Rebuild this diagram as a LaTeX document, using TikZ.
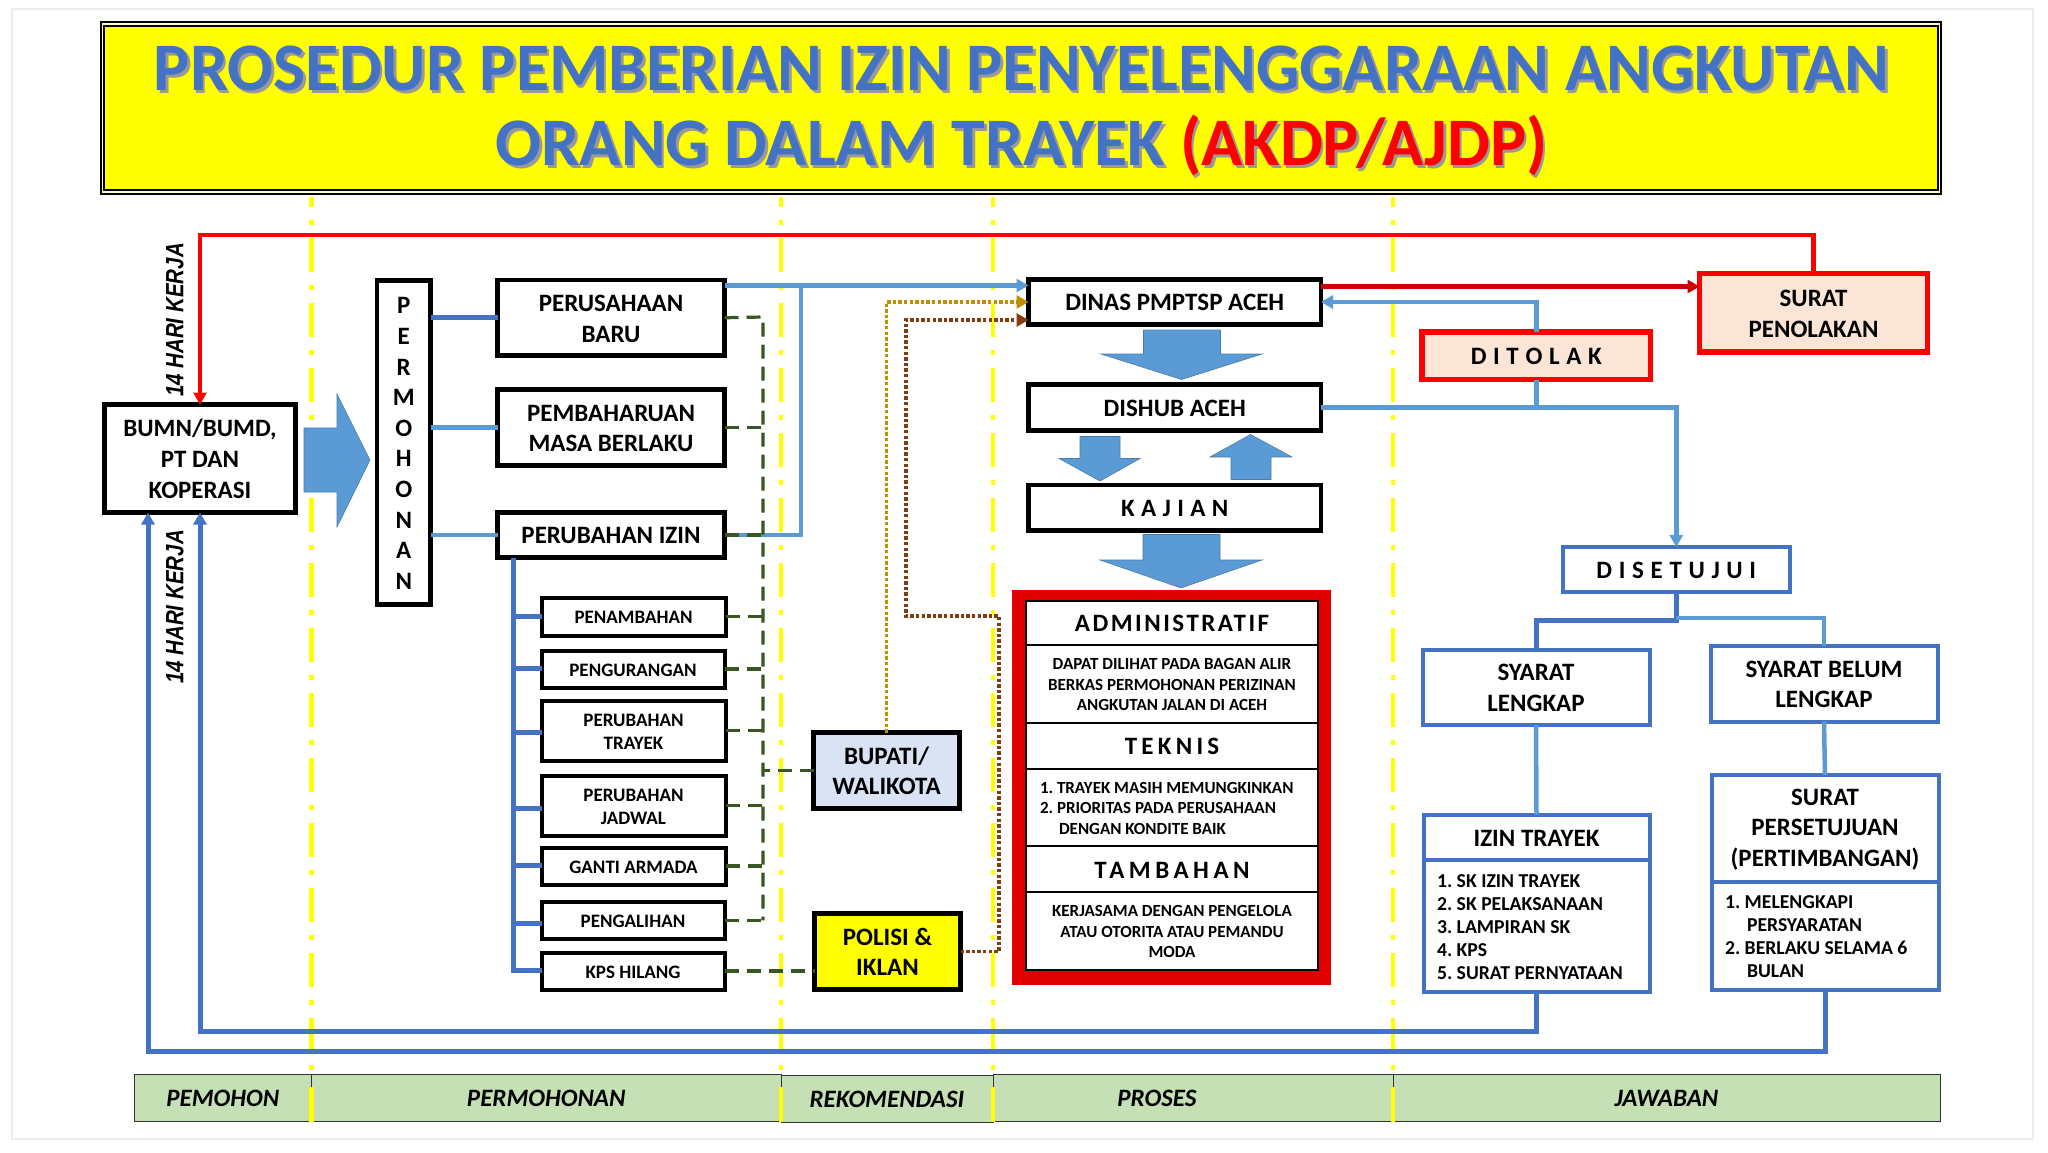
\documentclass[tikz,border=0pt]{standalone}
\usepackage{fontspec}
\usetikzlibrary{arrows.meta,calc}
\setmainfont{Carlito}
\newfontfamily\arialf{Liberation Sans}
\newcommand\fa{\fontsize{25}{30.6}\selectfont\bfseries\frenchspacing}
\newcommand\fb{\fontsize{19}{23}\selectfont\bfseries\frenchspacing}
\newcommand\fc{\fontsize{17}{20.5}\selectfont\bfseries\frenchspacing}
\newcommand\fd{\fontsize{19.7}{23}\selectfont\bfseries\frenchspacing}
\definecolor{yellow}{HTML}{FFFF00}
\definecolor{red}{HTML}{FF0000}
\definecolor{tblue}{HTML}{4472C4}
\definecolor{sky}{HTML}{5B9BD5}
\definecolor{dgreen}{HTML}{385723}
\definecolor{gold}{HTML}{BF8F00}
\definecolor{brownd}{HTML}{843C0C}
\definecolor{peach}{HTML}{FBE5D6}
\definecolor{pale}{HTML}{DAE3F3}
\definecolor{bandg}{HTML}{C5E0B4}
\definecolor{redbox}{HTML}{E00000}
\definecolor{dred}{HTML}{D00000}
\def\shr{3}
\newcommand\pbox[7]{%
  \pgfmathsetmacro\bw{#5-#3-\shr}\pgfmathsetmacro\bh{#6-#4-\shr}%
  \pgfmathsetmacro\bx{(#3+#5)/2}\pgfmathsetmacro\by{(#4+#6)/2}%
  \node[#2,minimum width=\bw pt,minimum height=\bh pt] (#1) at (\bx,\by) {\rule{0pt}{\dimexpr0.644em+2pt\relax}#7};}
\tikzset{
  x=1pt,y=-1pt,
  base/.style={align=center,inner sep=0pt,outer sep=0pt,fill=white},
  bk/.style={base,draw=black,line width=4.5pt,font=\fa},
  sub/.style={base,draw=black,line width=4pt,font=\fb},
  bl/.style={base,draw=tblue,line width=4pt,font=\fa},
  row/.style={base,draw=black,line width=2.5pt,font=\fc},
  rowh/.style={base,draw=black,line width=2.5pt,font=\fa},
  band/.style={base,draw=black!80,line width=1pt,fill=bandg,font=\fontsize{25}{30}\selectfont\bfseries\itshape},
  conb/.style={draw=tblue,line width=5pt,line join=miter},
  cons/.style={draw=sky,line width=4.5pt,line join=miter},
  cong/.style={draw=dgreen,line width=3.2pt,dash pattern=on 14pt off 8pt},
  arr/.style={-{Triangle[width=13pt,length=12pt]}},
  yel/.style={draw=yellow,line width=4.5pt},
  yeld/.style={yel,dash pattern=on 34pt off 13pt on 5pt off 13pt,dash phase=24pt},
  block/.style={fill=sky,draw=sky!80!black,line width=.6pt},
  dk/.style={line width=3.4pt,dash pattern=on 3.4pt off 2.2pt},
  hari/.style={rotate=90,inner sep=0pt,outer sep=0pt,font=\arialf\fontsize{25}{30}\selectfont\bfseries\itshape},
}
\begin{document}
\begin{tikzpicture}
\useasboundingbox (0,0) rectangle (2048,1152);
\fill[white] (0,0) rectangle (2048,1152);
\draw[black!7,line width=1.5pt] (12,9) rectangle (2033,1139);
% yellow column lines
\foreach \xx in {311.5,781,993,1393}{\draw[yeld] (\xx,197) -- (\xx,1074);}
% title
\def\shr{4}
\pbox{titlebox}{draw=black,double=yellow!25!white,double distance=1.5pt,line width=2.2pt,fill=yellow,outer sep=0pt,inner sep=0pt}{100.5}{22}{1941.5}{194}{}
\def\shr{3}
\node[align=center,inner sep=0pt,text=black!40,font=\fontsize{68}{74.5}\selectfont\bfseries] (titleshadow) at (1024,114) {PROSEDUR PEMBERIAN IZIN PENYELENGGARAAN ANGKUTAN\\ORANG DALAM TRAYEK (AKDP/AJDP)};
\node[align=center,inner sep=0pt,text=tblue,font=\fontsize{68}{74.5}\selectfont\bfseries] (title) at (1021.5,111) {PROSEDUR PEMBERIAN IZIN PENYELENGGARAAN ANGKUTAN\\ORANG DALAM TRAYEK \textcolor{red}{(AKDP/AJDP)}};
% left column
\pbox{bumn}{bk}{103}{403}{297}{514}{BUMN/BUMD,\\PT DAN\\KOPERASI}
\node[hari] (hariA) at (175,320) {\scalebox{0.82}[1]{14 HARI KERJA}};
\node[hari] (hariB) at (175,607) {\scalebox{0.82}[1]{14 HARI KERJA}};
\fill[block] (304,428) -- (337,428) -- (337,394) -- (370,460) -- (337,527) -- (337,492) -- (304,492) -- cycle;
\pbox{permohonan}{bk}{375.5}{279}{432}{606}{P\\E\\R\\M\\O\\H\\O\\N\\A\\N}
% request boxes
\pbox{baru}{bk}{496}{278.5}{726}{357}{PERUSAHAAN\\BARU}
\pbox{masa}{bk}{496}{388}{726}{467}{PEMBAHARUAN\\MASA BERLAKU}
\pbox{izin}{bk}{496}{511}{726}{559}{PERUBAHAN IZIN}
\pbox{tambah}{sub}{540}{596}{727}{637}{PENAMBAHAN}
\pbox{kurang}{sub}{540}{649}{726}{689}{PENGURANGAN}
\pbox{trayek}{sub}{540}{699}{727}{762}{PERUBAHAN\\TRAYEK}
\pbox{jadwal}{sub}{540}{774}{727}{837}{PERUBAHAN\\JADWAL}
\pbox{armada}{sub}{540}{846}{727}{886}{GANTI ARMADA}
\pbox{alih}{sub}{540}{900}{726}{940.5}{PENGALIHAN}
\pbox{kps}{sub}{540}{951}{726}{991}{KPS HILANG}
\pbox{bupati}{bk,fill=pale}{812}{731}{961}{810}{BUPATI/\\WALIKOTA}
\pbox{polisi}{bk,fill=yellow}{813}{912}{962}{991}{POLISI \&\\IKLAN}
% process column
\pbox{dinas}{bk}{1027}{278}{1322.5}{326}{DINAS PMPTSP ACEH}
\pbox{dishub}{bk}{1027}{383}{1322.5}{432}{DISHUB ACEH}
\pbox{kajian}{bk}{1027}{483.5}{1322.5}{532}{\addfontfeature{LetterSpace=3}K A J I A N}
\fill[block] (1143.5,330) -- (1220.5,330) -- (1220.5,354) -- (1262,354) -- (1181.5,379.5) -- (1101,354) -- (1143.5,354) -- cycle;
\fill[block] (1080,436.5) -- (1120,436.5) -- (1120,458.5) -- (1140,458.5) -- (1100,481) -- (1059,458.5) -- (1080,458.5) -- cycle;
\fill[block] (1231,479.5) -- (1271,479.5) -- (1271,457) -- (1292,457) -- (1250.5,434.5) -- (1210,457) -- (1231,457) -- cycle;
\fill[block] (1143,534.5) -- (1220,534.5) -- (1220,560) -- (1262,560) -- (1181,588) -- (1100,560) -- (1143,560) -- cycle;
\def\shr{0}
\pbox{redframe}{base,fill=redbox}{1012}{589.5}{1331}{984.5}{}
\pbox{admh}{rowh}{1026}{601}{1318}{645}{\addfontfeature{LetterSpace=10}ADMINISTRATIF}
\pbox{admb}{row}{1026}{645}{1318}{723}{DAPAT DILIHAT PADA BAGAN ALIR\\BERKAS PERMOHONAN PERIZINAN\\ANGKUTAN JALAN DI ACEH}
\pbox{tekh}{rowh}{1026}{723}{1318}{769}{\addfontfeature{LetterSpace=17}TEKNIS}
\pbox{tekb}{row,text width=264pt,align=flush left}{1026}{769}{1318}{846}{1. TRAYEK MASIH MEMUNGKINKAN\\2. PRIORITAS PADA PERUSAHAAN\\\hspace*{19pt}DENGAN KONDITE BAIK}
\pbox{tamh}{rowh}{1026}{846}{1318}{892}{\addfontfeature{LetterSpace=18}TAMBAHAN}
\pbox{tamb}{row}{1026}{892}{1318}{970}{KERJASAMA DENGAN PENGELOLA\\ATAU OTORITA ATAU PEMANDU\\MODA}
\def\shr{3}
% answer column
\pbox{penolakan}{bk,draw=red,line width=5.5pt,fill=peach}{1698}{272}{1929}{353.5}{SURAT\\PENOLAKAN}
\pbox{ditolak}{bk,draw=red,line width=5.5pt,fill=peach}{1420.5}{330.5}{1652}{381}{\addfontfeature{LetterSpace=4}D I T O L A K}
\pbox{setuju}{bl}{1561}{545.5}{1791.5}{593}{\addfontfeature{LetterSpace=4}D I S E T U J U I}
\pbox{lengkap}{bl}{1421}{648}{1651}{726.5}{SYARAT\\LENGKAP}
\pbox{belum}{bl}{1709}{644}{1939}{723}{SYARAT BELUM\\LENGKAP}
\pbox{izinh}{bl}{1422}{813}{1651}{862}{IZIN TRAYEK}
\pbox{izinb}{bl,font=\fd,text width=199pt,align=flush left}{1422}{858}{1651}{993.5}{1. SK IZIN TRAYEK\\2. SK PELAKSANAAN\\3. LAMPIRAN SK\\4. KPS\\5. SURAT PERNYATAAN}
\pbox{suratp}{bl}{1710}{773.5}{1940}{884}{SURAT\\PERSETUJUAN\\(PERTIMBANGAN)}
\pbox{suratb}{bl,font=\fd,text width=200pt,align=flush left}{1710}{880}{1940}{991}{1. MELENGKAPI\\\hspace*{22pt}PERSYARATAN\\2. BERLAKU SELAMA 6\\\hspace*{22pt}BULAN}
% return connectors
\draw[draw=red,line width=4.5pt,arr] (penolakan.north) -- (penolakan.north |- 0,235) -- (bumn.north |- 0,235) -- (bumn.north);
\draw[conb,arr] (suratb.south) -- (suratb.south |- 0,1051) -- (148,1051) -- (bumn.south -| 148,0);
\draw[conb,arr] (izinb.south) -- (izinb.south |- 0,1031) -- (bumn.south |- 0,1031) -- (bumn.south);
% permohonan links
\draw[conb] (permohonan.east |- baru.west) -- (baru.west);
\draw[cons] (permohonan.east |- masa.west) -- (masa.west);
\draw[cons] (permohonan.east |- izin.west) -- (izin.west);
\draw[cons,arr] (baru.east |- 0,285.5) -- (dinas.west |- 0,285.5);
\draw[cons] (izin.east |- 0,535) -- (801,535) -- (801,285.5);
% dashed green
\coordinate (bus) at (763,317);
\draw[cong] (baru.east) -- (bus) -- (bus |- alih.east);
\foreach \nn in {masa,izin,tambah,kurang,trayek,jadwal,armada,alih}{\draw[cong] (\nn.east) -- (bus |- \nn.east);}
\draw[cong] (bupati.west) -- (bus |- bupati.west);
\draw[cong] (kps.east) -- (polisi.west |- kps.east);
% blue bus for sub boxes
\draw[conb] (izin.south -| 513,0) -- (513,970) -- (kps.west |- 0,970);
\foreach \nn/\yy in {tambah/616,kurang/668,trayek/732,jadwal/808,armada/865,alih/923}{\draw[conb] (513,\yy) -- (\nn.west |- 0,\yy);}
% dotted
\draw[gold,dk,arr] (bupati.north) -- (bupati.north |- 0,302) -- (dinas.west |- 0,302);
\draw[brownd,dk,arr] (polisi.east |- 0,951.5) -- (999,951.5) -- (999,616) -- (906,616) -- (906,320) -- (dinas.west |- 0,320);
% right side
\draw[draw=dred,line width=4.5pt,arr] (dinas.east |- 0,286.5) -- (penolakan.west |- 0,286.5);
\draw[cons,arr] (ditolak.north) -- (ditolak.north |- 0,302) -- (dinas.east |- 0,302);
\draw[cons,arr] (dishub.east) -- (setuju.north |- dishub.east) -- (setuju.north);
\draw[cons] (ditolak.south) -- (ditolak.south |- dishub.east);
\draw[conb] (setuju.south) -- (setuju.south |- 0,620) -- (lengkap.north |- 0,620) -- (lengkap.north);
\draw[cons] (setuju.south |- 0,618) -- (belum.north |- 0,618) -- (belum.north);
\draw[cons] (lengkap.south) -- (izinh.north);
\draw[cons] (belum.south) -- (suratp.north);
% bottom band
\def\shr{0}
\pbox{pemohon}{band}{134}{1074.5}{311.5}{1121}{PEMOHON}
\pbox{permoh}{band}{311.5}{1074.5}{781}{1121}{PERMOHONAN}
\pbox{rekom}{band}{781}{1075.5}{993}{1122}{REKOMENDASI}
\pbox{proses}{band}{993}{1074.5}{1393}{1121}{PROSES\hspace*{72pt}}
\pbox{jawab}{band}{1393}{1074.5}{1940}{1121}{JAWABAN}
\foreach \xx in {311.5,781,993,1393}{\draw[yel] (\xx,1087) -- (\xx,1122);}
\end{tikzpicture}
\end{document}
